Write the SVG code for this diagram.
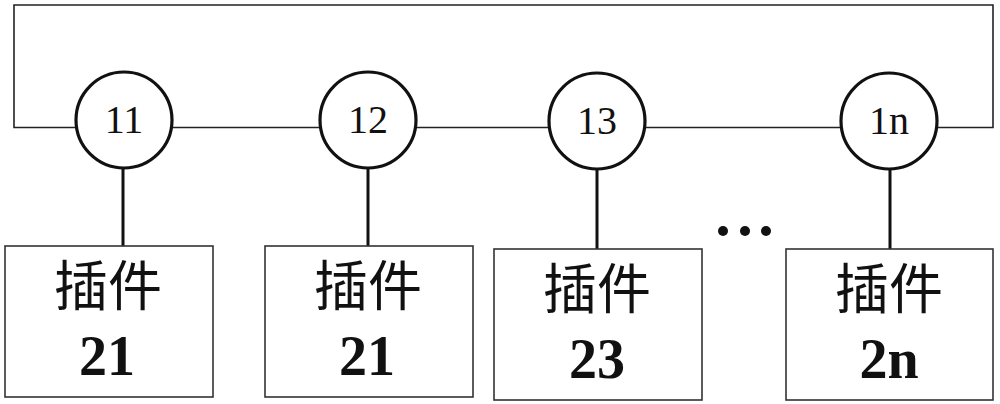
<svg xmlns="http://www.w3.org/2000/svg" width="1000" height="404" viewBox="0 0 1000 404">
<style>
.bg{fill:#fff}
.loop{fill:none;stroke:#222;stroke-width:1.6}
.conn{fill:none;stroke:#111;stroke-width:3}
.hub{fill:#fff;stroke:#111;stroke-width:3.2}
.box{fill:#fff;stroke:#333;stroke-width:1.6}
.hl{font-family:"Liberation Serif",serif;font-size:40px;fill:#111;text-anchor:middle}
.cn{font-family:"Noto Sans CJK SC",sans-serif;font-size:54px;fill:#111;text-anchor:middle}
.num{font-family:"Liberation Serif",serif;font-weight:bold;font-size:56px;fill:#111;text-anchor:middle}
.dot{fill:#111}
</style>
<rect class="bg" x="0" y="0" width="1000" height="404"/>
<g id="connectors">
<path class="loop" d="M124,127.5 H14 V5 H993 V127.5 H124"/>
<line class="conn" x1="123" y1="168" x2="123" y2="246"/>
<line class="conn" x1="368" y1="168" x2="368" y2="246"/>
<line class="conn" x1="597" y1="168" x2="597" y2="250"/>
<line class="conn" x1="890" y1="168" x2="890" y2="250"/>
</g>
<g id="n11"><circle class="hub" cx="124" cy="120" r="48"/><text class="hl" x="124" y="133">11</text></g>
<g id="n12"><circle class="hub" cx="368" cy="120" r="48"/><text class="hl" x="368" y="133">12</text></g>
<g id="n13"><circle class="hub" cx="597" cy="121" r="48"/><text class="hl" x="597" y="134">13</text></g>
<g id="n1n"><circle class="hub" cx="889" cy="121" r="48"/><text class="hl" x="889" y="134">1n</text></g>
<g id="p21a"><rect class="box" x="5" y="246" width="208" height="151"/><text class="cn" x="108" y="306">插件</text><text class="num" x="107" y="375">21</text></g>
<g id="p21b"><rect class="box" x="265" y="246" width="208" height="151"/><text class="cn" x="368" y="306">插件</text><text class="num" x="367" y="375">21</text></g>
<g id="p23"><rect class="box" x="494" y="249" width="208" height="151"/><text class="cn" x="597" y="309">插件</text><text class="num" x="597" y="378">23</text></g>
<g id="p2n"><rect class="box" x="786" y="249" width="207" height="151"/><text class="cn" x="889" y="309">插件</text><text class="num" x="889" y="378">2n</text></g>
<g id="ellipsis"><circle class="dot" cx="723" cy="231" r="5"/><circle class="dot" cx="745" cy="231" r="5"/><circle class="dot" cx="766" cy="231" r="5"/></g>
</svg>
